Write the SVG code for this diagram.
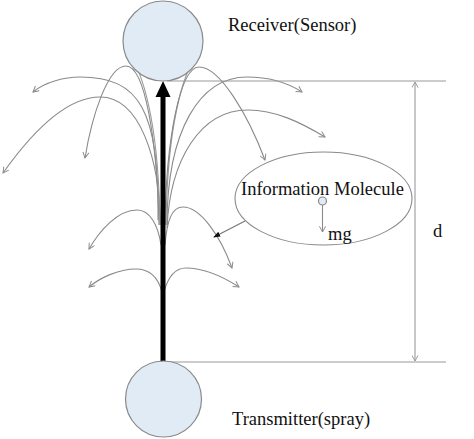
<svg xmlns="http://www.w3.org/2000/svg" width="474" height="439" viewBox="0 0 474 439">
<style>
.traj{fill:none;stroke:#8a8a8a;stroke-width:1.1;marker-end:url(#open)}
.dim{fill:none;stroke:#9a9a9a;stroke-width:1.1}
.ball{fill:#e1ebf5;stroke:#8a8a8a;stroke-width:1.2}
.lbl{font-family:"Liberation Serif","Times New Roman",serif;font-size:18.5px;fill:#111}
</style>
<defs>
<marker id="open" viewBox="0 0 8 8" refX="7" refY="4" markerWidth="7" markerHeight="7" markerUnits="userSpaceOnUse" orient="auto">
<path d="M0.5,0.5 L7,4 L0.5,7.5" fill="none" stroke="#8a8a8a" stroke-width="1.1"/>
</marker>
<marker id="dimhead" viewBox="0 0 8 8" refX="7" refY="4" markerWidth="7" markerHeight="7" markerUnits="userSpaceOnUse" orient="auto">
<path d="M0.5,0.5 L7,4 L0.5,7.5" fill="none" stroke="#9a9a9a" stroke-width="1.1"/>
</marker>
<marker id="solid" viewBox="0 0 8 8" refX="7" refY="4" markerWidth="7" markerHeight="7" markerUnits="userSpaceOnUse" orient="auto">
<path d="M0,1 L8,4 L0,7 Z" fill="#111"/>
</marker>
</defs>
<rect width="474" height="439" fill="#fff"/>

<g id="connectors">
<path class="traj" d="M158,220 C159,110 140,77 80,77 C65,77 45,82 33,92"/>
<path class="traj" d="M160,225 C160,160 140,97 100,97 C65,97 30,135 3,173"/>
<path class="traj" d="M159,225 C157,140 145,66 126,66 C108,66 92,115 85,158"/>
<path class="dim" d="M160,225 C159,150 150,85 128,50"/>
<path class="dim" d="M166,225 C167,150 175,90 197,52"/>
<path class="traj" d="M165,225 C166,140 180,67 199,67 C220,67 248,115 265,160"/>
<path class="traj" d="M167,225 C167,130 200,77 247,77 C270,77 288,83 302,92"/>
<path class="traj" d="M167,228 C170,160 200,110 248,110 C275,110 300,122 325,137"/>
<path class="traj" d="M161,245 C158,225 150,210 137,210 C118,210 100,230 89,249"/>
<path class="traj" d="M165,245 C167,220 172,207 183,207 C200,207 220,235 232,268"/>
<path class="traj" d="M162,292 C158,277 150,269 136,269 C118,269 100,278 89,287"/>
<path class="traj" d="M164,292 C168,277 175,268 186,268 C205,268 225,278 239,287"/>
<line class="dim" x1="167" y1="81" x2="446" y2="81"/>
<line class="dim" x1="167" y1="362" x2="446" y2="362"/>
<line class="dim" x1="415" y1="220" x2="415" y2="82" marker-end="url(#dimhead)"/>
<line class="dim" x1="415" y1="220" x2="415" y2="361" marker-end="url(#dimhead)"/>
<line x1="163" y1="362" x2="163" y2="95" stroke="#000" stroke-width="5"/>
<polygon points="163,81 155.5,97 170.5,97" fill="#000"/>
<line x1="245" y1="221" x2="214" y2="237" stroke="#777" stroke-width="1.1" marker-end="url(#solid)"/>
</g>

<g id="receiver">
<circle class="ball" cx="163" cy="41" r="40"/>
<text class="lbl" x="228" y="31">Receiver(Sensor)</text>
</g>

<g id="transmitter">
<circle class="ball" cx="163.5" cy="399" r="38"/>
<text class="lbl" x="232" y="425">Transmitter(spray)</text>
</g>

<g id="molecule">
<ellipse cx="323.5" cy="198.5" rx="88.5" ry="46.5" fill="#fff" stroke="#8a8a8a" stroke-width="1.1"/>
<text class="lbl" x="241" y="195">Information Molecule</text>
<line x1="322.5" y1="205" x2="322.5" y2="232" stroke="#8a8a8a" stroke-width="1.1" marker-end="url(#open)"/>
<circle class="ball" cx="322.5" cy="201" r="4"/>
<text class="lbl" x="328" y="240">mg</text>
</g>

<g id="distance">
<text class="lbl" x="433" y="237">d</text>
</g>
</svg>
